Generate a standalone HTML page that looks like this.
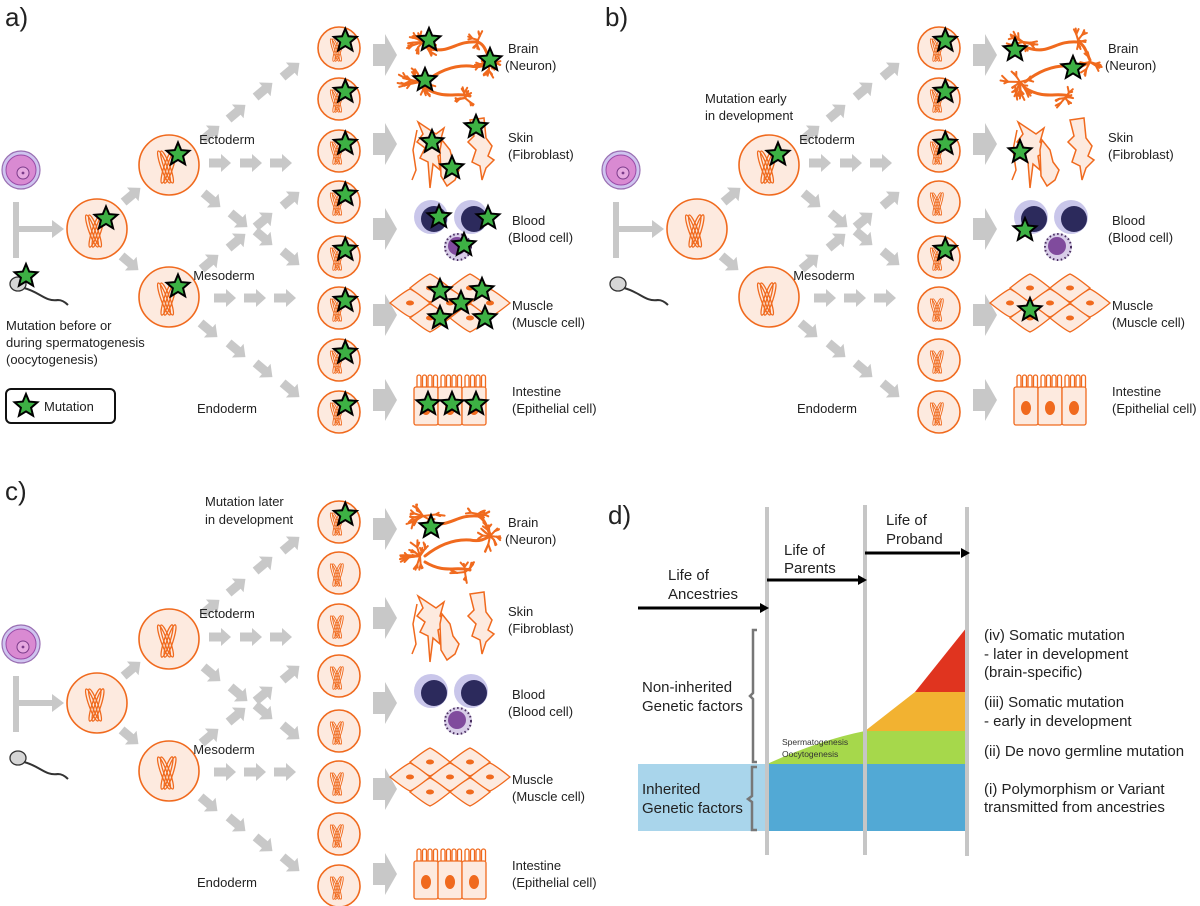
<!DOCTYPE html>
<html><head><meta charset="utf-8"><style>
html,body{margin:0;padding:0;background:#fff;}
svg{display:block;font-family:"Liberation Sans",Arial,sans-serif;}
</style></head><body>
<svg id="s" width="1200" height="906" viewBox="0 0 1200 906" xmlns="http://www.w3.org/2000/svg">
<g>
<text x="608" y="524" font-size="26" fill="#222">d)</text>
<rect x="638" y="764" width="129" height="67" fill="#a9d5eb"/>
<rect x="767" y="764" width="200" height="67" fill="#52a9d5"/>
<path d="M767,764 Q820,740 865,731 L967,731 L967,764 Z" fill="#a6d84b"/>
<path d="M865,731 L915,692 L967,692 L967,731 Z" fill="#f2b231"/>
<path d="M915,692 L967,627 L967,692 Z" fill="#e0341f"/>
<line x1="767" y1="507" x2="767" y2="855" stroke="#c6c6c6" stroke-width="4"/>
<line x1="865" y1="505" x2="865" y2="855" stroke="#c6c6c6" stroke-width="4"/>
<line x1="967" y1="507" x2="967" y2="856" stroke="#c6c6c6" stroke-width="4"/>
<g stroke="#000" stroke-width="3">
<line x1="638" y1="608" x2="760" y2="608"/><line x1="767" y1="580" x2="858" y2="580"/><line x1="865" y1="553" x2="960" y2="553"/></g>
<g fill="#000"><path d="M769,608 l-9,-5 v10z"/><path d="M867,580 l-9,-5 v10z"/><path d="M970,553 l-9,-5 v10z"/></g>
<g font-size="15" fill="#222">
<text x="668" y="580">Life of</text><text x="668" y="599">Ancestries</text>
<text x="784" y="555">Life of</text><text x="784" y="573">Parents</text>
<text x="886" y="525">Life of</text><text x="886" y="544">Proband</text>
<text x="642" y="692">Non-inherited</text><text x="642" y="711">Genetic factors</text>
<text x="642" y="794">Inherited</text><text x="642" y="813">Genetic factors</text>
<text x="984" y="640">(iv) Somatic mutation</text><text x="984" y="659">- later in development</text><text x="984" y="677">(brain-specific)</text>
<text x="984" y="707">(iii) Somatic mutation</text><text x="984" y="726">- early in development</text>
<text x="984" y="756">(ii) De novo germline mutation</text>
<text x="984" y="794">(i) Polymorphism or Variant</text><text x="984" y="812">transmitted from ancestries</text>
</g>
<text x="782" y="745" font-size="8.5" fill="#333">Spermatogenesis</text>
<text x="782" y="757" font-size="8.5" fill="#333">Oocytogenesis</text>
<g fill="none" stroke="#777" stroke-width="2.5">
<path d="M757,630 h-4 v63 l-3,3 l3,3 v63 h4"/>
<path d="M757,767 h-5 v29 l-4,3 l4,3 v28 h5"/>
</g>
</g>
</svg>
<script>
var S=document.getElementById('s');
var out='';
var OR='#f06a1e',GR='#c8c8c8';
function arrow(x,y,a,L,w,hw,hl){return '<polygon transform="translate('+x+','+y+') rotate('+a+')" points="'+(-L/2)+','+(-w/2)+' '+(L/2-hl)+','+(-w/2)+' '+(L/2-hl)+','+(-hw/2)+' '+(L/2)+',0 '+(L/2-hl)+','+(hw/2)+' '+(L/2-hl)+','+(w/2)+' '+(-L/2)+','+(w/2)+'" fill="'+GR+'"/>';}
function sa(x,y,a){return arrow(x,y,a,22,9,18,10);}
function star(x,y,r){r=r||12;var p=[];for(var i=0;i<10;i++){var rr=i%2?r*0.45:r;var t=-Math.PI/2+i*Math.PI/5;p.push((x+rr*Math.cos(t)).toFixed(1)+','+(y+rr*Math.sin(t)).toFixed(1));}return '<polygon points="'+p.join(' ')+'" fill="#3db144" stroke="#000" stroke-width="2"/>';}
function chrom(x,y,s){var g='<g transform="translate('+x+','+y+') scale('+s+')" fill="none" stroke="'+OR+'" stroke-width="1.3">';
g+='<ellipse cx="-3" cy="0" rx="3" ry="17" transform="rotate(-20 -3 0)"/><ellipse cx="0" cy="0" rx="3" ry="17" transform="rotate(-20 0 0)"/>';
g+='<ellipse cx="0" cy="0" rx="3" ry="17" transform="rotate(18 0 0)"/><ellipse cx="3" cy="0" rx="3" ry="17" transform="rotate(18 3 0)"/>';
return g+'</g>';}
function cell(x,y,r,st){var g='<circle cx="'+x+'" cy="'+y+'" r="'+r+'" fill="#fdeadf" stroke="'+OR+'" stroke-width="1.6"/>'+chrom(x-2,y+2,r/30);
if(st)g+=star(x+r*0.3,y-r*0.35,12);return g;}
var seed=7;function rnd(){seed=(seed*9301+49297)%233280;return seed/233280;}
function bush(x,y,n,sz){var g='';for(var i=0;i<n;i++){var a=rnd()*Math.PI*2,l=sz*(0.4+rnd()*0.6);var x2=x+l*Math.cos(a),y2=y+l*Math.sin(a)*0.8;g+='<line x1="'+x+'" y1="'+y+'" x2="'+x2.toFixed(1)+'" y2="'+y2.toFixed(1)+'"/>';for(var j=0;j<3;j++){var b=a+(rnd()-0.5)*1.6,m=l*0.5*rnd()+3;g+='<line x1="'+x2.toFixed(1)+'" y1="'+y2.toFixed(1)+'" x2="'+(x2+m*Math.cos(b)).toFixed(1)+'" y2="'+(y2+m*Math.sin(b)).toFixed(1)+'"/>';}}return g;}
function neuron(){var g='<g stroke="'+OR+'" stroke-width="2" fill="none" stroke-linecap="round">';
g+=bush(423,42,9,13)+bush(490,62,8,11)+bush(420,82,10,14)+bush(465,98,5,9)+bush(478,40,4,8);
g+='<path d="M428,48 C450,55 455,40 478,42 C485,45 486,52 490,60" stroke-width="3"/><path d="M425,82 C440,70 455,65 470,66 C480,68 485,65 490,62" stroke-width="3"/><path d="M425,88 C445,100 455,92 470,96" stroke-width="3"/>';
return g+'</g>';}
function skin(){return '<g fill="#fdeadf" stroke="'+OR+'" stroke-width="1.5"><path d="M418,122 l5,12 l-6,8 l8,6 l-5,10 l8,4 l2,26 l3,-24 l7,6 l-2,-14 l10,-6 l-8,-8 l4,-14 l-8,6 z"/><path d="M440,150 l2,-10 l8,10 l3,12 l6,8 l-4,10 l-8,6 l-6,-10 z"/><path d="M470,120 l14,-2 l2,20 l6,8 l-4,10 l6,4 l-8,8 l-4,12 l-2,-14 l-8,-4 l4,-12 l-8,-8 l6,-6 z"/><path d="M417,130 l-4,20 l3,20 l-4,10" fill="none"/></g>';}
function blood(){return '<g><circle cx="431" cy="217" r="17" fill="#c9c6ea"/><circle cx="434" cy="219" r="13" fill="#2c2a5c"/><circle cx="471" cy="217" r="17" fill="#c9c6ea"/><circle cx="474" cy="219" r="13" fill="#2c2a5c"/><circle cx="458" cy="247" r="14" fill="#d8cde8"/><circle cx="457" cy="246" r="9" fill="#6a2a8a" opacity="0.8"/><circle cx="458" cy="247" r="13" fill="none" stroke="#4a3060" stroke-width="2" stroke-dasharray="1.5 2.5"/></g>';}
function muscle(){var g='<g fill="#fdeadf" stroke="'+OR+'" stroke-width="1.3">';
[[430,288],[470,288],[450,303],[430,318],[470,318],[410,303],[490,303]].forEach(function(c){g+='<path d="M'+(c[0]-20)+','+c[1]+' Q'+(c[0]-5)+','+(c[1]-12)+' '+c[0]+','+(c[1]-14)+' Q'+(c[0]+5)+','+(c[1]-12)+' '+(c[0]+20)+','+c[1]+' Q'+(c[0]+5)+','+(c[1]+12)+' '+c[0]+','+(c[1]+14)+' Q'+(c[0]-5)+','+(c[1]+12)+' '+(c[0]-20)+','+c[1]+'z"/><ellipse cx="'+c[0]+'" cy="'+c[1]+'" rx="4" ry="2.5" fill="'+OR+'" stroke="none"/>';});
return g+'</g>';}
function intes(){var g='<g fill="#fdeadf" stroke="'+OR+'" stroke-width="1.3">';
for(var i=0;i<3;i++){var x=414+i*24;g+='<rect x="'+x+'" y="387" width="24" height="38" rx="2"/>';for(var k=0;k<4;k++)g+='<path d="M'+(x+3+k*5.5)+',387 v-10 a2,2 0 0 1 4,0 v10" fill="none"/>';g+='<ellipse cx="'+(x+12)+'" cy="408" rx="5" ry="7" fill="'+OR+'" stroke="none"/>';}
return g+'</g>';}
function panel(ox,oy,c){var g='<g transform="translate('+ox+','+oy+')">';
g+='<text x="5" y="26" font-size="26" fill="#222">'+c.lab+'</text>';
g+='<circle cx="21" cy="170" r="19" fill="#cfc4ef" stroke="#9a6fb3" stroke-width="1.2"/><circle cx="21" cy="170" r="15" fill="#d98ad2" stroke="#9a4ba8" stroke-width="1"/><circle cx="23" cy="173" r="6" fill="#e6a8e0" stroke="#7b3b8a" stroke-width="1"/><circle cx="23" cy="173" r="1.4" fill="#7b3b8a"/>';
g+='<rect x="13" y="202" width="6" height="56" fill="'+GR+'"/><rect x="16" y="226" width="36" height="6" fill="'+GR+'"/><polygon points="52,220 64,229 52,238" fill="'+GR+'"/>';
g+='<ellipse cx="18" cy="284" rx="8" ry="7" fill="#d6d6d6" stroke="#333" stroke-width="1.3"/><path d="M24,288 C40,292 45,302 58,300 C62,300 65,302 68,305" fill="none" stroke="#333" stroke-width="2"/>';
if(c.sperm)g+=star(26,276,12);
[[132,195,-40],[130,263,40],[211,133,-40],[237,112,-40],[264,90,-40],[291,70,-40],[220,163,0],[251,163,0],[281,163,0],[212,200,40],[239,220,40],[264,238,40],[291,258,40],[210,262,-40],[237,241,-40],[264,220,-40],[291,199,-40],[225,298,0],[255,298,0],[285,298,0],[209,330,40],[237,350,40],[264,370,40],[291,390,40]].forEach(function(a){g+=sa(a[0],a[1],a[2]);});
[55,144,229,315,400].forEach(function(y){g+=arrow(385,y,0,24,22,42,12);});
g+=cell(97,229,30,c.z)+cell(169,165,30,c.u)+cell(169,297,30,c.l);
[48,99,151,202,257,308,360,412].forEach(function(y,i){g+=cell(339,y,21,c.cells[i]);});
g+=neuron()+skin()+blood()+muscle()+intes();
c.st.forEach(function(p){g+=star(p[0],p[1],12);});
g+='<g font-size="13" fill="#222"><text x="227" y="144" text-anchor="middle">Ectoderm</text><text x="224" y="280" text-anchor="middle">Mesoderm</text><text x="227" y="413" text-anchor="middle">Endoderm</text>';
g+='<text x="508" y="53">Brain</text><text x="505" y="70">(Neuron)</text><text x="508" y="142">Skin</text><text x="508" y="159">(Fibroblast)</text><text x="512" y="225">Blood</text><text x="508" y="242">(Blood cell)</text><text x="512" y="310">Muscle</text><text x="512" y="327">(Muscle cell)</text><text x="512" y="396">Intestine</text><text x="512" y="413">(Epithelial cell)</text>';
(c.txt||[]).forEach(function(t){g+='<text x="'+t[0]+'" y="'+t[1]+'">'+t[2]+'</text>';});
g+='</g>';
return g+'</g>';}
out+=panel(0,0,{lab:'a)',sperm:1,z:1,u:1,l:1,cells:[1,1,1,1,1,1,1,1],
st:[[429,40],[490,60],[425,80],[432,142],[476,127],[452,168],[439,217],[488,218],[464,245],[440,291],[482,290],[461,303],[440,318],[485,318],[428,404],[452,404],[476,404]],
txt:[[6,330,'Mutation before or'],[6,347,'during spermatogenesis'],[6,364,'(oocytogenesis)']]});
out+='<rect x="6" y="389" width="109" height="34" rx="5" fill="none" stroke="#111" stroke-width="2"/>'+star(26,406,12)+'<text x="44" y="411" font-size="13" fill="#222">Mutation</text>';
out+=panel(600,0,{lab:'b)',z:0,u:1,l:0,cells:[1,1,1,0,1,0,0,0],
st:[[415,50],[473,68],[420,152],[425,230],[430,310]],
txt:[[105,103,'Mutation early'],[105,120,'in development']]});
out+=panel(0,474,{lab:'c)',z:0,u:0,l:0,cells:[1,0,0,0,0,0,0,0],
st:[[431,53]],
txt:[[205,32,'Mutation later'],[205,50,'in development']]});
S.insertAdjacentHTML('beforeend',out);
</script>
</body></html>
